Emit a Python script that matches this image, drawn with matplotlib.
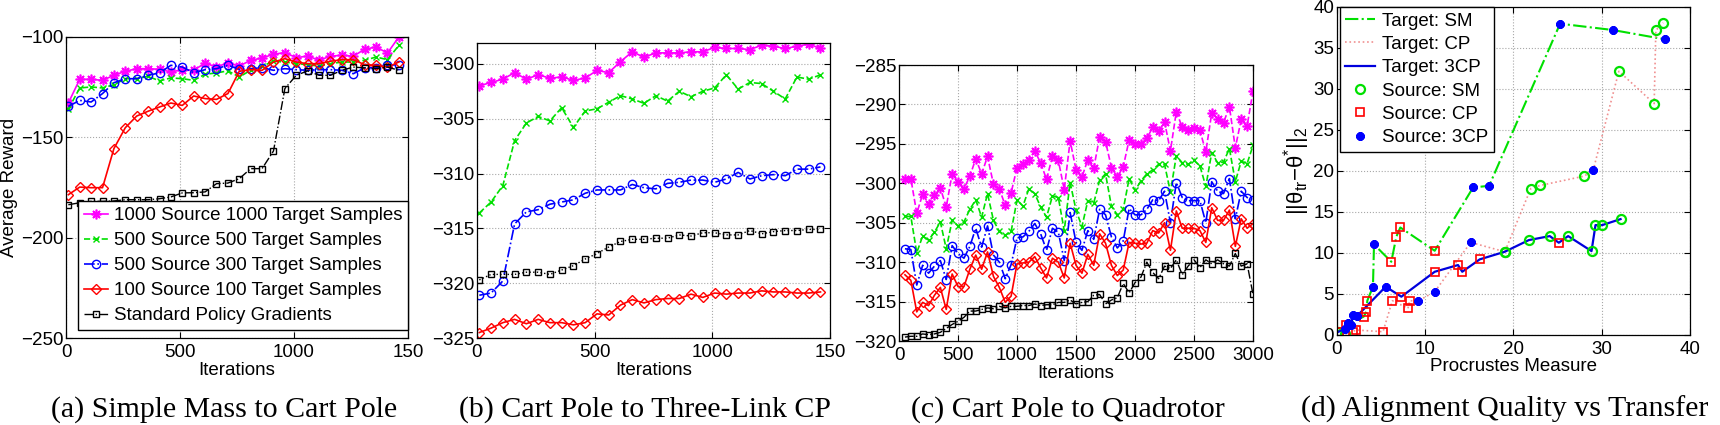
import matplotlib
matplotlib.use("Agg")
import matplotlib.pyplot as plt
import numpy as np

plt.rcParams['font.family'] = ['Liberation Sans', 'DejaVu Sans']
plt.rcParams['font.size'] = 13.5
plt.rcParams['mathtext.default'] = 'regular'

# ---- (a) Simple Mass to Cart Pole ----
it_a = np.arange(10, 1500, 50)
a_1000 = [-132.9, -121.1, -121.1, -121.6, -119.1, -117.1, -115.8, -115.8, -116.1, -117.4,
          -116.3, -116.6, -113.0, -115.0, -112.8, -114.5, -111.6, -110.5, -108.6, -107.8,
          -110.3, -109.5, -111.6, -109.6, -109.1, -109.6, -106.1, -105.0, -108.0, -100.0]
a_500 = [-136.0, -125.4, -124.9, -125.4, -123.8, -120.8, -120.8, -119.6, -121.9, -120.4,
         -120.8, -121.6, -118.6, -117.9, -116.9, -119.9, -116.6, -114.6, -112.1, -112.5,
         -113.3, -113.8, -114.5, -113.3, -112.5, -112.5, -111.6, -110.0, -111.3, -104.2]
a_300 = [-134.6, -131.6, -132.4, -128.2, -122.8, -120.8, -120.8, -119.1, -117.9, -114.1,
         -115.0, -117.8, -116.3, -115.8, -114.1, -116.1, -115.8, -115.3, -116.6, -115.8,
         -116.3, -116.6, -116.3, -116.3, -116.6, -118.3, -115.4, -115.3, -114.1, -113.8]
a_100 = [-178.6, -174.8, -175.1, -175.1, -155.6, -145.2, -139.4, -137.0, -134.9, -132.9,
         -134.1, -129.4, -130.7, -131.1, -128.2, -117.1, -116.3, -116.6, -112.5, -110.8,
         -112.5, -113.3, -113.3, -112.1, -111.3, -111.3, -113.8, -114.1, -115.0, -112.5]
a_pg = [-183.6, -182.6, -181.9, -181.9, -181.7, -181.1, -181.1, -181.1, -180.6, -179.7,
        -177.7, -177.6, -177.2, -173.1, -172.8, -170.6, -165.6, -165.6, -156.8, -125.7,
        -119.1, -116.9, -119.1, -119.1, -116.6, -115.0, -115.4, -115.8, -115.0, -116.6]

# ---- (b) Cart Pole to Three-Link CP ----
it_b = np.arange(10, 1500, 50)
b_1000 = [-302.0, -301.7, -301.4, -300.8, -301.4, -301.0, -301.3, -301.2, -301.5, -301.3,
          -300.6, -300.8, -299.8, -298.9, -299.4, -299.0, -299.0, -299.0, -298.9, -298.9,
          -298.5, -298.6, -298.6, -298.7, -298.3, -298.4, -298.6, -298.4, -298.2, -298.6]
b_500 = [-313.6, -312.6, -311.1, -307.0, -305.4, -304.8, -305.2, -304.0, -305.8, -304.3,
         -304.1, -303.5, -302.9, -303.2, -303.6, -302.9, -303.4, -302.5, -303.0, -302.5,
         -302.2, -301.0, -302.3, -301.7, -301.8, -302.5, -303.2, -301.2, -301.4, -301.0]
b_300 = [-321.1, -320.9, -319.8, -314.6, -313.5, -313.3, -312.8, -312.6, -312.4, -311.8,
         -311.5, -311.5, -311.5, -311.0, -311.3, -311.4, -310.9, -310.8, -310.6, -310.6,
         -310.8, -310.5, -309.9, -310.5, -310.2, -310.1, -310.2, -309.6, -309.6, -309.4]
b_100 = [-324.5, -324.1, -323.6, -323.3, -323.7, -323.3, -323.6, -323.6, -323.8, -323.6,
         -322.8, -322.9, -322.0, -321.5, -321.8, -321.5, -321.4, -321.4, -321.0, -321.3,
         -320.9, -321.0, -320.9, -320.9, -320.7, -320.8, -320.8, -320.9, -320.9, -320.8]
b_pg = [-319.7, -319.2, -319.2, -319.2, -319.0, -319.0, -319.2, -318.8, -318.4, -317.8,
        -317.3, -316.7, -316.2, -316.0, -316.0, -315.9, -315.9, -315.6, -315.7, -315.4,
        -315.4, -315.6, -315.6, -315.2, -315.5, -315.3, -315.2, -315.2, -315.1, -315.1]

# ---- (c) Cart Pole to Quadrotor ----
it_c = np.arange(50, 3001, 50)
c_1000 = [-299.4, -299.4, -303.8, -301.4, -302.6, -301.5, -300.6, -303.0, -298.8, -299.8,
          -300.7, -299.1, -296.9, -298.8, -296.6, -300.1, -300.7, -302.8, -301.2, -298.0,
          -297.6, -297.0, -295.9, -297.4, -299.5, -296.6, -297.1, -300.8, -294.6, -298.3,
          -299.2, -297.0, -298.1, -294.1, -294.7, -298.0, -299.2, -297.9, -294.5, -295.0,
          -295.0, -294.3, -292.9, -293.4, -292.2, -295.9, -290.9, -292.9, -293.3, -293.0,
          -293.3, -296.0, -291.1, -291.8, -292.3, -290.3, -295.5, -291.9, -292.7, -288.3]
c_500 = [-304.2, -304.2, -308.8, -306.7, -307.2, -306.2, -304.9, -308.3, -304.7, -305.4,
         -304.9, -303.3, -302.1, -304.3, -301.3, -304.7, -306.1, -306.6, -306.1, -302.1,
         -302.9, -300.7, -301.3, -303.0, -304.3, -301.6, -301.8, -306.0, -299.9, -303.4,
         -305.5, -302.2, -302.5, -299.6, -298.8, -302.9, -304.0, -303.3, -299.4, -300.9,
         -299.7, -298.8, -298.3, -297.6, -297.6, -301.1, -296.5, -297.4, -297.6, -297.1,
         -297.8, -300.4, -296.1, -297.4, -297.3, -295.6, -299.8, -297.2, -297.5, -295.2]
c_300 = [-308.3, -308.4, -312.9, -310.4, -311.4, -310.5, -309.8, -312.2, -307.9, -308.9,
         -309.5, -308.0, -305.7, -308.1, -305.4, -309.1, -310.0, -312.1, -310.3, -306.9,
         -306.8, -306.1, -305.1, -306.4, -308.5, -305.7, -306.2, -309.8, -303.7, -307.5,
         -308.5, -306.0, -307.1, -303.3, -304.0, -306.8, -308.2, -307.3, -303.2, -304.0,
         -304.0, -303.3, -302.1, -302.2, -301.0, -305.0, -299.9, -301.8, -302.2, -302.2,
         -302.2, -305.0, -299.8, -301.0, -301.3, -299.4, -304.5, -301.0, -301.8, -302.1]
c_100 = [-311.6, -312.3, -316.3, -315.1, -315.5, -314.2, -313.2, -316.0, -311.5, -313.1,
         -313.1, -310.9, -309.1, -310.9, -308.7, -311.8, -313.2, -315.1, -314.3, -310.2,
         -310.1, -310.0, -309.3, -310.7, -312.0, -309.5, -310.0, -312.0, -307.6, -310.4,
         -311.4, -309.0, -310.4, -306.4, -307.6, -310.4, -311.7, -311.0, -307.5, -307.6,
         -307.7, -307.6, -306.0, -306.3, -305.0, -308.5, -303.5, -305.7, -305.7, -305.7,
         -306.0, -307.5, -303.1, -304.7, -304.7, -303.4, -308.0, -304.5, -305.7, -305.1]
c_pg = [-319.5, -319.4, -319.4, -319.1, -319.2, -319.1, -318.9, -318.4, -317.9, -317.5,
        -317.0, -316.2, -316.2, -316.0, -315.8, -315.9, -315.6, -315.8, -315.6, -315.6,
        -315.5, -315.5, -315.3, -315.5, -315.4, -315.4, -315.1, -315.1, -314.8, -315.3,
        -315.1, -315.0, -314.2, -314.1, -315.3, -314.8, -314.5, -312.7, -313.9, -312.6,
        -311.9, -310.0, -311.3, -312.1, -310.5, -310.8, -309.7, -311.6, -310.5, -309.7,
        -310.7, -309.7, -310.2, -309.7, -310.2, -310.5, -308.9, -310.5, -310.2, -314.1]

# ---- (d) Alignment Quality vs Transfer ----
sm_x = [0.11, 1.06, 3.02, 3.33, 3.44, 4.08, 4.2, 6.16, 6.73, 7.18, 11.08, 15.43, 17.24,
        25.29, 31.27, 37.2]
sm_y = [0.41, 1.22, 2.23, 2.84, 4.18, 5.89, 11.04, 8.93, 11.98, 13.11, 10.27, 17.99, 18.19,
        37.96, 37.19, 36.05]
sm_src = ['SM', 'CP', 'CP', 'CP', 'CP', '3CP', '3CP', 'CP', 'CP', 'CP', 'CP', '3CP', '3CP',
          '3CP', '3CP', '3CP']
cp_x = [0.95, 1.81, 2.12, 5.22, 6.28, 8.05, 8.24, 9.19, 11.08, 15.16, 19.02, 21.97, 23.02,
        28.01, 29.04, 31.95, 35.95, 36.14, 36.97]
cp_y = [0.12, 0.4, 0.61, 0.4, 4.18, 3.25, 4.18, 4.14, 5.28, 11.29, 10.15, 17.86, 18.23,
        19.37, 20.1, 32.16, 28.22, 37.15, 38.08]
cp_src = ['SM', 'CP', 'CP', 'CP', 'CP', 'CP', 'CP', '3CP', '3CP', '3CP', 'SM', 'SM', 'SM',
          'SM', '3CP', 'SM', 'SM', 'SM', 'SM']
tcp_x = [0.19, 0.9, 1.25, 1.6, 1.81, 2.31, 5.52, 7.3, 11.08, 13.72, 14.2, 16.18, 19.02,
         21.74, 24.12, 25.14, 26.2, 28.85, 29.3, 30.06, 32.14]
tcp_y = [0.4, 0.7, 1.42, 1.2, 2.44, 2.35, 5.89, 4.67, 7.71, 8.53, 7.71, 9.22, 10.15,
         11.57, 12.06, 11.25, 12.06, 10.23, 13.4, 13.4, 14.13]
tcp_src = ['CP', '3CP', '3CP', '3CP', '3CP', '3CP', '3CP', 'CP', 'CP', 'CP', 'CP', 'CP', 'SM',
           'SM', 'SM', 'CP', 'SM', 'SM', 'SM', 'SM', 'SM']

MAG = '#ff00ff'
GRN = '#00e000'
BLU = '#0000ff'
RED = '#ff0000'
BLK = '#000000'
AST = (8, 2, 0)  # asterisk like matlab '*'


def style(ax):
    ax.grid(True, linestyle=':', color='#a8a8a8', linewidth=0.8)
    ax.set_axisbelow(True)
    ax.tick_params(direction='in', top=True, right=True, length=4, width=0.8)
    ax.tick_params(axis='x', pad=4)
    ax.tick_params(axis='y', pad=2)
    for s in ax.spines.values():
        s.set_linewidth(0.9)


def curves(ax, x, s1, s2, s3, s4, s5, ls1, ls5):
    ax.plot(x, s1, color=MAG, ls=ls1, lw=1.2, marker=AST, ms=7, mew=1.2,
            label='1000 Source 1000 Target Samples')
    ax.plot(x, s2, color=GRN, ls='--', lw=1.2, marker='x', ms=4.5, mew=1,
            label='500 Source 500 Target Samples')
    ax.plot(x, s3, color=BLU, ls='-.', lw=1.2, marker='o', ms=6, mfc='none', mew=1,
            label='500 Source 300 Target Samples')
    ax.plot(x, s4, color=RED, ls='-', lw=1.2, marker='D', ms=5.5, mfc='none', mew=1,
            label='100 Source 100 Target Samples')
    ax.plot(x, s5, color=BLK, ls=ls5, lw=1.0, marker='s', ms=5, mfc='none', mew=1,
            label='Standard Policy Gradients')


fig = plt.figure(figsize=(17.2, 4.25), dpi=100)

ax1 = fig.add_axes([0.0384, 0.2047, 0.1988, 0.7083])
curves(ax1, it_a, a_1000, a_500, a_300, a_100, a_pg, '-', '-.')
ax1.set_xlim(0, 1500)
ax1.set_ylim(-250, -100)
ax1.set_xticks([0, 500, 1000, 1500])
ax1.set_xticklabels(['0', '500', '1000', '150'])
ax1.set_yticks([-250, -200, -150, -100])
ax1.set_xlabel('Iterations', labelpad=1)
ax1.set_ylabel('Average Reward', labelpad=2)
style(ax1)
leg = ax1.legend(loc='lower right', bbox_to_anchor=(1.0, 0.027), borderaxespad=0,
                 fancybox=False, framealpha=1, edgecolor='black', handlelength=1.3,
                 handletextpad=0.3, labelspacing=0.42, borderpad=0.3)
leg.get_frame().set_linewidth(1.0)

ax2 = fig.add_axes([0.2773, 0.2047, 0.2052, 0.6941])
curves(ax2, it_b, b_1000, b_500, b_300, b_100, b_pg, '-', ':')
ax2.set_xlim(0, 1500)
ax2.set_ylim(-325, -298.1)
ax2.set_xticks([0, 500, 1000, 1500])
ax2.set_xticklabels(['0', '500', '1000', '150'])
ax2.set_yticks([-325, -320, -315, -310, -305, -300])
ax2.set_xlabel('Iterations', labelpad=1)
style(ax2)

ax3 = fig.add_axes([0.5227, 0.1976, 0.2058, 0.6494])
curves(ax3, it_c, c_1000, c_500, c_300, c_100, c_pg, '--', '-.')
ax3.set_xlim(0, 3000)
ax3.set_ylim(-320, -285)
ax3.set_xticks(np.arange(0, 3001, 500))
ax3.set_yticks(np.arange(-320, -284, 5))
ax3.set_xlabel('Iterations', labelpad=1)
style(ax3)

ax4 = fig.add_axes([0.7773, 0.2118, 0.2052, 0.7718])
ax4.plot(sm_x, sm_y, color=GRN, ls='-.', lw=1.5, label='Target: SM')
ax4.plot(cp_x, cp_y, color='#f09090', ls=':', lw=1.2, label='Target: CP')
ax4.plot(tcp_x, tcp_y, color='#0000dd', ls='-', lw=1.6, label='Target: 3CP')
all_x = sm_x + cp_x + tcp_x
all_y = sm_y + cp_y + tcp_y
all_src = sm_src + cp_src + tcp_src
src_style = {'SM': dict(marker='o', color=GRN, mfc='none', ms=6.5, mew=1.6, label='Source: SM'),
             'CP': dict(marker='s', color=RED, mfc='none', ms=6, mew=1.2, label='Source: CP'),
             '3CP': dict(marker=AST, color=BLU, ms=6, mew=2.2, label='Source: 3CP')}
for name in ['SM', 'CP', '3CP']:
    px = [x for x, s in zip(all_x, all_src) if s == name]
    py = [y for y, s in zip(all_y, all_src) if s == name]
    ax4.plot(px, py, ls='none', **src_style[name])
ax4.set_xlim(0, 40)
ax4.set_ylim(0, 40)
ax4.set_xticks([0, 10, 20, 30, 40])
ax4.set_yticks(np.arange(0, 41, 5))
ax4.set_xlabel('Procrustes Measure', labelpad=0)
ax4.set_ylabel(r'$||\theta_{tr}{-}\theta^{*}||_2$', labelpad=1, fontsize=16)
style(ax4)
leg4 = ax4.legend(loc='upper left', bbox_to_anchor=(0.008, 1.0), borderaxespad=0,
                  fancybox=False, framealpha=1, edgecolor='black', handlelength=1.6,
                  handletextpad=0.35, labelspacing=0.33, borderpad=0.3)
leg4.get_frame().set_linewidth(1.0)

caps = ['(a) Simple Mass to Cart Pole', '(b) Cart Pole to Three-Link CP',
        '(c) Cart Pole to Quadrotor', '(d) Alignment Quality vs Transfer']
cap_x = [224, 645, 1068, 1505]
for cx, c in zip(cap_x, caps):
    fig.text(cx / 1720, 1 - 417 / 425, c, ha='center', va='baseline',
             family=['Liberation Serif', 'DejaVu Serif'], fontsize=21.5)

fig.savefig('out.png', dpi=100)
